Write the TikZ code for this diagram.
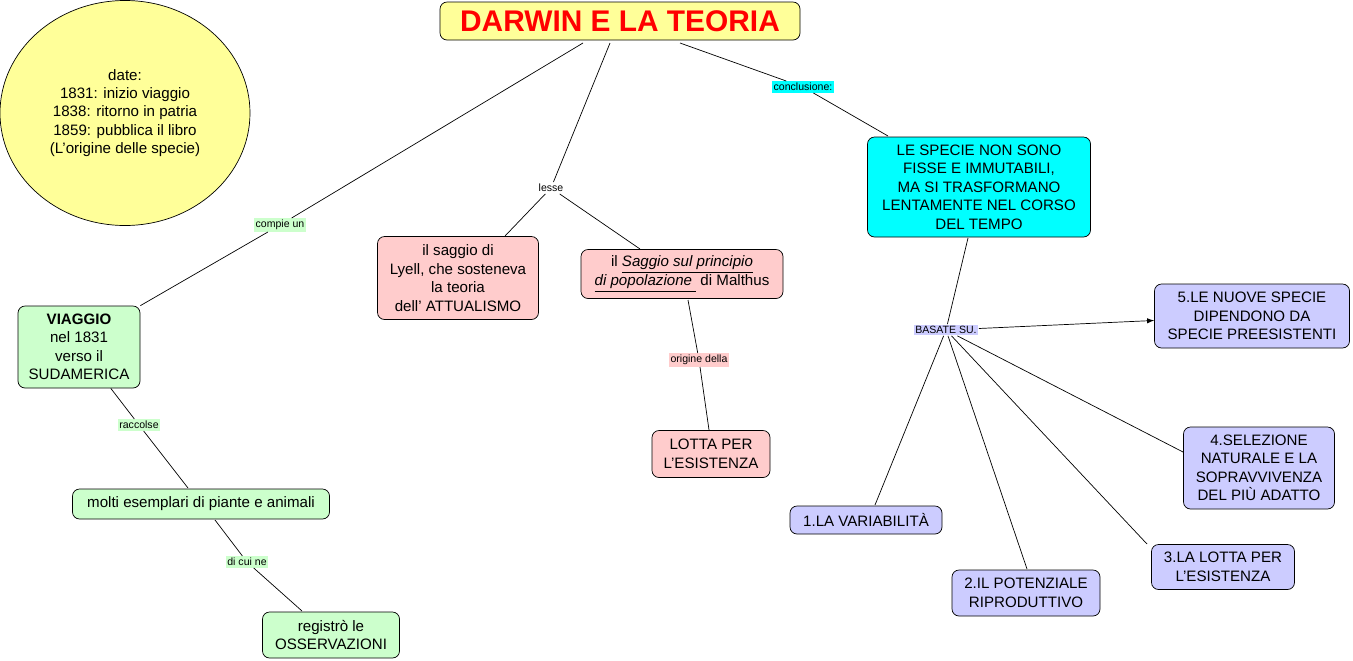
\documentclass[tikz,border=0pt]{standalone}
\usepackage{fontspec}
\setmainfont{Liberation Sans}
\usetikzlibrary{shapes.geometric}
\definecolor{cgreen}{HTML}{CCFFCC}
\definecolor{cpink}{HTML}{FFCCCC}
\definecolor{ccyan}{HTML}{00FFFF}
\definecolor{clav}{HTML}{CCCCFF}
\definecolor{cyell}{HTML}{FFFF99}
\begin{document}
\begin{tikzpicture}[x=0.02cm,y=-0.02cm,
    box/.style={rectangle,rounded corners=4pt,draw=black,thin,align=center,
      font=\fontsize{8.6}{10.5}\selectfont,inner sep=2pt},
    G/.style={box,fill=cgreen},
    P/.style={box,fill=cpink},
    C/.style={box,fill=ccyan},
    L/.style={box,fill=clav},
    lab/.style={inner sep=1pt,font=\fontsize{6}{7}\selectfont},
    link/.style={draw=black,thin},
]
\useasboundingbox (0,0) rectangle (1353,660);
% concetti
\node[box,fill=cyell,minimum width=360*0.02cm,minimum height=38*0.02cm,
  font=\fontsize{17}{20}\bfseries\selectfont,text=red] (title) at (620,21) {DARWIN E LA TEORIA};
\node[ellipse,draw,thin,fill=cyell,minimum width=250*0.02cm,minimum height=225*0.02cm,
  align=center,font=\fontsize{8.6}{10.5}\selectfont,inner sep=0pt] (date) at (125,113)
  {date:\\1831: inizio viaggio\\1838: ritorno in patria\\1859: pubblica il libro\\(L'origine delle specie)};
\node[G,minimum width=122*0.02cm,minimum height=82*0.02cm] (viaggio) at (79,347) {\textbf{VIAGGIO}\\nel 1831\\verso il\\SUDAMERICA};
\node[G,minimum width=257*0.02cm,minimum height=30*0.02cm] (molti) at (201,504) {molti esemplari di piante e animali};
\node[G,minimum width=137*0.02cm,minimum height=46*0.02cm] (reg) at (331,635) {registrò le\\OSSERVAZIONI};
\node[P,minimum width=161*0.02cm,minimum height=83*0.02cm] (lyell) at (458,278) {il saggio di\\Lyell, che sosteneva\\la teoria\\dell' ATTUALISMO};
\node[P,minimum width=202*0.02cm,minimum height=49*0.02cm] (malthus) at (682,274) {il \underline{\textit{Saggio sul principio}}\\\underline{\textit{di popolazione\ }} di Malthus};
\node[P,minimum width=118*0.02cm,minimum height=47*0.02cm] (lotta) at (711,454) {LOTTA PER\\L'ESISTENZA};
\node[C,minimum width=223*0.02cm,minimum height=100*0.02cm] (specie) at (979,187) {LE SPECIE NON SONO\\FISSE E IMMUTABILI,\\MA SI TRASFORMANO\\LENTAMENTE NEL CORSO\\DEL TEMPO};
\node[L,minimum width=195*0.02cm,minimum height=64*0.02cm] (s5) at (1252,316) {5.LE NUOVE SPECIE\\DIPENDONO DA\\SPECIE PREESISTENTI};
\node[L,minimum width=151*0.02cm,minimum height=82*0.02cm] (s4) at (1259,468) {4.SELEZIONE\\NATURALE E LA\\SOPRAVVIVENZA\\DEL PIÙ ADATTO};
\node[L,minimum width=152*0.02cm,minimum height=28*0.02cm] (s1) at (866,520) {1.LA VARIABILITÀ};
\node[L,minimum width=148*0.02cm,minimum height=46*0.02cm] (s2) at (1026,593) {2.IL POTENZIALE\\RIPRODUTTIVO};
\node[L,minimum width=143*0.02cm,minimum height=45*0.02cm] (s3) at (1223,567) {3.LA LOTTA PER\\L'ESISTENZA};
% etichette
\node[lab,fill=cgreen] (compie) at (280,225) {compie un};
\node[lab,fill=white] (lesse) at (551,188) {lesse};
\node[lab,fill=ccyan] (concl) at (803,87) {conclusione:};
\node[lab,fill=cgreen] (racc) at (139,425) {raccolse};
\node[lab,fill=cgreen] (dicui) at (247,562) {di cui ne};
\node[lab,fill=cpink] (orig) at (699,360) {origine della};
\node[lab,fill=clav] (basate) at (946,330) {BASATE SU.};
% collegamenti
\coordinate (t1) at (583,43);
\coordinate (t2) at (610,43);
\coordinate (t3) at (680,43);
\draw[link] (t1) -- (compie) -- (viaggio.north east);
\draw[link] (t2) -- (lesse);
\draw[link] (lesse) -- (505,236);
\draw[link] (lesse) -- (640,249);
\draw[link] (t3) -- (concl) -- (888,136);
\draw[link] (viaggio) -- (racc) -- (188,488);
\draw[link] (215,520) -- (dicui) -- (302,611);
\draw[link] (688,300) -- (orig) -- (709,430);
\draw[link] (968,238) -- (basate);
\draw[link,-latex] (basate) -- (s5);
\draw[link] (basate) -- (875,505);
\draw[link] (basate) -- (1027,569);
\draw[link] (basate) -- (1147,544);
\draw[link] (basate) -- (1183,452);
\end{tikzpicture}
\end{document}
